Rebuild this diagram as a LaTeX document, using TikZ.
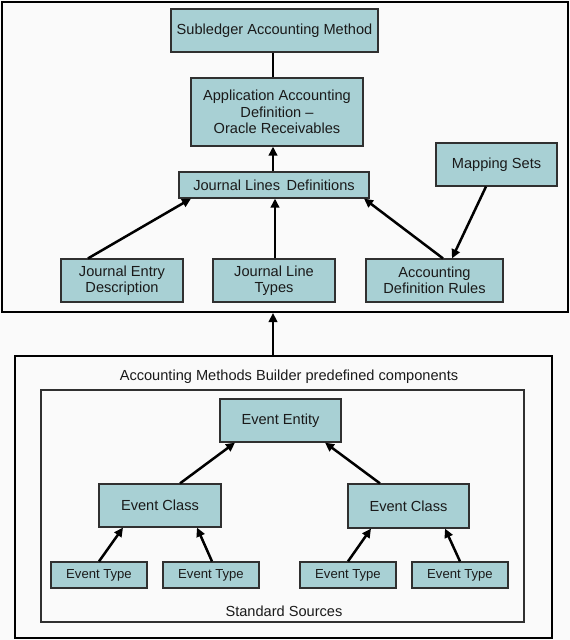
\documentclass[tikz,border=0pt]{standalone}
\usepackage{fontspec}
\setmainfont{Liberation Sans}
\usetikzlibrary{arrows.meta,calc}
\definecolor{boxfill}{HTML}{A8D0D4}
\definecolor{boxline}{HTML}{303030}
\definecolor{bg}{HTML}{FAFAFA}
\definecolor{txt}{HTML}{1A1A1A}
\tikzset{
  card/.style={draw=boxline, fill=boxfill, line width=1.2pt, inner sep=0pt, align=center,
    text=txt, font=\fontsize{14.6}{16.5}\selectfont},
  small/.style={card, font=\fontsize{13.1}{15}\selectfont},
  frame/.style={draw=black, line width=2pt, inner sep=0pt},
  inframe/.style={draw=boxline, line width=1.3pt, inner sep=0pt},
  conn/.style={line width=2.5pt, black},
  arr/.style={conn, -{Triangle[length=9pt,width=8.5pt]}},
  label/.style={text=txt, font=\fontsize{14.6}{16.5}\selectfont, inner sep=0pt}
}
\begin{document}
\begin{tikzpicture}[x=1pt,y=-1pt]
\path[fill=bg] (0,0) rectangle (570,640);
\useasboundingbox (0,0) rectangle (570,640);
% frames
\node[frame, minimum width=566pt, minimum height=310pt] (topframe) at (285,157) {};
\node[frame, minimum width=537pt, minimum height=282pt] (botframe) at (283.5,497) {};
\node[inframe, minimum width=483pt, minimum height=232pt] (inner) at (282.5,506) {};
\node[label] (title) at (289,377) {Accounting Methods Builder predefined components};
\node[label] (std) at (284,611) {Standard Sources};
% top part
\node[card, minimum width=207pt, minimum height=43pt] (sam) at (274.5,30.5) {Subledger Accounting Method};
\node[card, minimum width=172pt, minimum height=68pt] (aad) at (277,112) {Application Accounting\\Definition –\\Oracle Receivables};
\node[card, minimum width=190pt, minimum height=26pt] (jld) at (274,185) {Journal Lines\, Definitions};
\node[card, minimum width=121pt, minimum height=43pt] (ms) at (496.5,164.5) {Mapping Sets};
\node[card, minimum width=122pt, minimum height=43pt] (jed) at (122,280.5) {Journal Entry\\Description};
\node[card, minimum width=122pt, minimum height=43pt] (jlt) at (274,280.5) {Journal Line\\Types};
\node[card, minimum width=137pt, minimum height=43pt] (adr) at (434.5,280.5) {Accounting\\Definition Rules};
% bottom part
\node[card, minimum width=121pt, minimum height=43pt] (ee) at (280.5,420.5) {Event Entity};
\node[card, minimum width=122pt, minimum height=43pt] (ecl) at (160,505.5) {Event Class};
\node[card, minimum width=121pt, minimum height=44pt] (ecr) at (408.5,506) {Event Class};
\node[small, minimum width=96pt, minimum height=26pt] (et1) at (99,575) {Event Type};
\node[small, minimum width=96pt, minimum height=26pt] (et2) at (211,575) {Event Type};
\node[small, minimum width=96pt, minimum height=26pt] (et3) at (348,575) {Event Type};
\node[small, minimum width=96pt, minimum height=26pt] (et4) at (460,575) {Event Type};
% connectors top
\draw[conn] ([xshift=-1.5pt]sam.south) -- ([xshift=-4pt]aad.north);
\draw[arr] ([xshift=-1pt]jld.north) -- ([xshift=-4pt]aad.south);
\draw[arr] ([xshift=-34pt]jed.north) -- ([xshift=-83pt]jld.south);
\draw[arr] ([xshift=1pt]jlt.north) -- ([xshift=1pt]jld.south);
\draw[arr] ([xshift=8.5pt]adr.north) -- ([xshift=90pt]jld.south);
\draw[arr] ([xshift=-10.5pt]ms.south) -- ([xshift=17.5pt]adr.north);
\draw[arr] (botframe.north -| sam.south) ++(-1.5pt,0) coordinate (b1) -- (b1 |- topframe.south);
% connectors bottom
\draw[arr] ([xshift=20pt]ecl.north) -- ([xshift=-45.5pt]ee.south);
\draw[arr] ([xshift=-28.5pt]ecr.north) -- ([xshift=44.5pt]ee.south);
\draw[arr] (et1.north) -- ([xshift=-37pt]ecl.south);
\draw[arr] ([xshift=1pt]et2.north) -- ([xshift=37pt]ecl.south);
\draw[arr] (et3.north) -- ([xshift=-37.5pt]ecr.south);
\draw[arr] (et4.north) -- ([xshift=36.5pt]ecr.south);
\end{tikzpicture}
\end{document}
